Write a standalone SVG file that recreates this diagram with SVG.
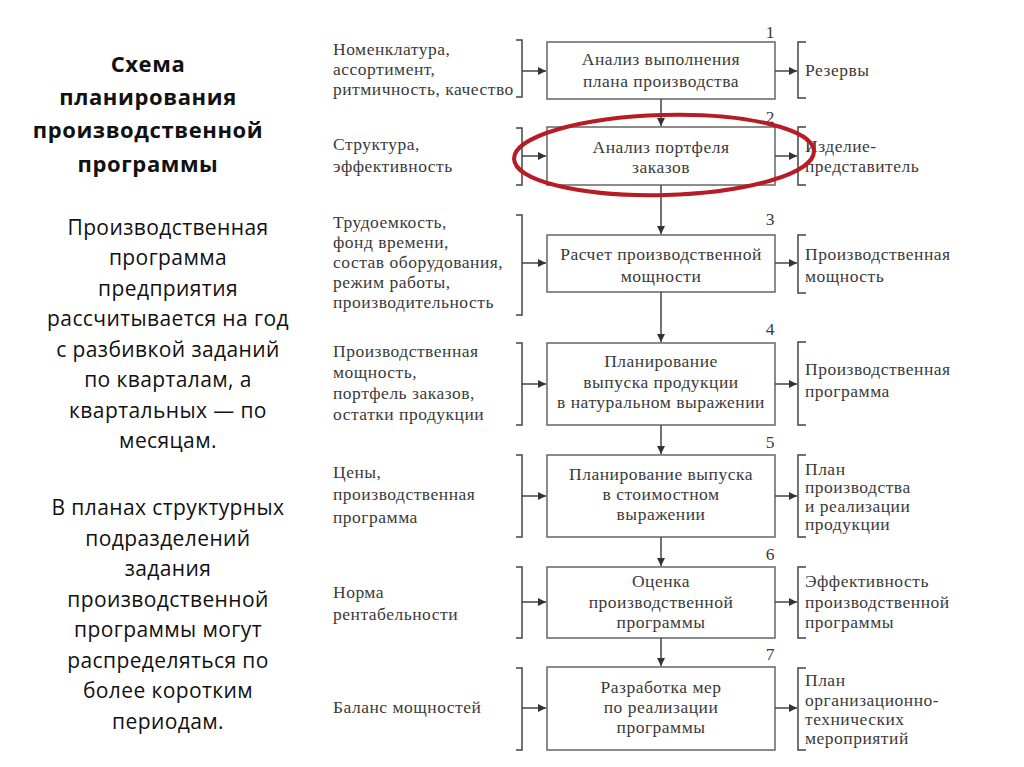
<svg xmlns="http://www.w3.org/2000/svg" width="1024" height="767" viewBox="0 0 1024 767">
<style>
.t{font-family:"Open Sans","Liberation Sans",sans-serif;fill:#111;text-anchor:middle}
.h{font-size:22px;font-weight:bold;letter-spacing:0.6px}
.b{font-size:21px;letter-spacing:0.4px}
.s{font-family:"Liberation Serif","Times New Roman",serif;font-size:17.5px;letter-spacing:0.5px;fill:#3a3a3a}
.c{text-anchor:middle}
.n{text-anchor:end}
.box{fill:#fff;stroke:#666;stroke-width:1.5}
.ln{fill:none;stroke:#444;stroke-width:1.5}
</style>
<defs>
<marker id="ah" viewBox="0 0 10 10" refX="10" refY="5" markerWidth="8" markerHeight="8" markerUnits="userSpaceOnUse" orient="auto">
<path d="M0,0 L10,5 L0,10 z" fill="#333"/>
</marker>
</defs>
<rect width="1024" height="767" fill="#fff"/>
<g id="title">
<text class="t h" x="148" y="72">Схема</text>
<text class="t h" x="148" y="105">планирования</text>
<text class="t h" x="148" y="138">производственной</text>
<text class="t h" x="148" y="172">программы</text>
</g>
<g id="para1">
<text class="t b" x="168" y="235">Производственная</text>
<text class="t b" x="168" y="265">программа</text>
<text class="t b" x="168" y="296">предприятия</text>
<text class="t b" x="168" y="326">рассчитывается на год</text>
<text class="t b" x="168" y="357">с разбивкой заданий</text>
<text class="t b" x="168" y="387">по кварталам, а</text>
<text class="t b" x="168" y="418">квартальных — по</text>
<text class="t b" x="168" y="448">месяцам.</text>
</g>
<g id="para2">
<text class="t b" x="168" y="515">В планах структурных</text>
<text class="t b" x="168" y="546">подразделений</text>
<text class="t b" x="168" y="576">задания</text>
<text class="t b" x="168" y="607">производственной</text>
<text class="t b" x="168" y="637">программы могут</text>
<text class="t b" x="168" y="668">распределяться по</text>
<text class="t b" x="168" y="698">более коротким</text>
<text class="t b" x="168" y="729">периодам.</text>
</g>
<g id="inputs">
<text class="s" x="333" y="55">Номенклатура,</text>
<text class="s" x="333" y="75">ассортимент,</text>
<text class="s" x="333" y="95">ритмичность, качество</text>
<text class="s" x="333" y="150">Структура,</text>
<text class="s" x="333" y="172">эффективность</text>
<text class="s" x="333" y="228">Трудоемкость,</text>
<text class="s" x="333" y="248">фонд времени,</text>
<text class="s" x="333" y="268">состав оборудования,</text>
<text class="s" x="333" y="288">режим работы,</text>
<text class="s" x="333" y="308">производительность</text>
<text class="s" x="333" y="357">Производственная</text>
<text class="s" x="333" y="378">мощность,</text>
<text class="s" x="333" y="399">портфель заказов,</text>
<text class="s" x="333" y="420">остатки продукции</text>
<text class="s" x="333" y="478">Цены,</text>
<text class="s" x="333" y="500">производственная</text>
<text class="s" x="333" y="523">программа</text>
<text class="s" x="333" y="598">Норма</text>
<text class="s" x="333" y="620">рентабельности</text>
<text class="s" x="333" y="713">Баланс мощностей</text>
</g>
<g id="node1">
<rect class="box" x="547" y="42" width="228" height="57"/>
<text class="s c" x="661" y="65">Анализ выполнения</text>
<text class="s c" x="661" y="87">плана производства</text>
<text class="s n" x="775" y="38">1</text>
</g>
<g id="node2">
<rect class="box" x="547" y="127" width="228" height="58"/>
<text class="s c" x="661" y="153">Анализ портфеля</text>
<text class="s c" x="661" y="173">заказов</text>
<text class="s n" x="775" y="123">2</text>
</g>
<g id="node3">
<rect class="box" x="547" y="235" width="228" height="57"/>
<text class="s c" x="661" y="260">Расчет производственной</text>
<text class="s c" x="661" y="282">мощности</text>
<text class="s n" x="775" y="225">3</text>
</g>
<g id="node4">
<rect class="box" x="547" y="343" width="228" height="82"/>
<text class="s c" x="661" y="367">Планирование</text>
<text class="s c" x="661" y="388">выпуска продукции</text>
<text class="s c" x="661" y="408">в натуральном выражении</text>
<text class="s n" x="775" y="335">4</text>
</g>
<g id="node5">
<rect class="box" x="547" y="455" width="228" height="82"/>
<text class="s c" x="661" y="480">Планирование выпуска</text>
<text class="s c" x="661" y="500">в стоимостном</text>
<text class="s c" x="661" y="520">выражении</text>
<text class="s n" x="775" y="448">5</text>
</g>
<g id="node6">
<rect class="box" x="547" y="567" width="228" height="71"/>
<text class="s c" x="661" y="587">Оценка</text>
<text class="s c" x="661" y="608">производственной</text>
<text class="s c" x="661" y="628">программы</text>
<text class="s n" x="775" y="560">6</text>
</g>
<g id="node7">
<rect class="box" x="547" y="667" width="228" height="83"/>
<text class="s c" x="661" y="693">Разработка мер</text>
<text class="s c" x="661" y="713">по реализации</text>
<text class="s c" x="661" y="733">программы</text>
<text class="s n" x="775" y="660">7</text>
</g>
<g id="outputs">
<text class="s" x="805" y="76">Резервы</text>
<text class="s" x="805" y="152">Изделие-</text>
<text class="s" x="805" y="172">представитель</text>
<text class="s" x="805" y="260">Производственная</text>
<text class="s" x="805" y="282">мощность</text>
<text class="s" x="805" y="375">Производственная</text>
<text class="s" x="805" y="397">программа</text>
<text class="s" x="805" y="475">План</text>
<text class="s" x="805" y="493">производства</text>
<text class="s" x="805" y="512">и реализации</text>
<text class="s" x="805" y="530">продукции</text>
<text class="s" x="805" y="587">Эффективность</text>
<text class="s" x="805" y="608">производственной</text>
<text class="s" x="805" y="628">программы</text>
<text class="s" x="805" y="686">План</text>
<text class="s" x="805" y="706">организационно-</text>
<text class="s" x="805" y="725">технических</text>
<text class="s" x="805" y="744">мероприятий</text>
</g>
<g id="connectors">
<path class="ln" d="M516,40 H522 V97 H516 M516,128 H522 V185 H516 M516,215 H522 V315 H516 M516,343 H522 V425 H516 M516,455 H522 V537 H516 M516,567 H522 V638 H516 M516,668 H522 V750 H516"/>
<path class="ln" d="M806,42 H798 V98 H806 M806,127 H798 V185 H806 M806,235 H798 V293 H806 M806,342 H798 V425 H806 M806,455 H798 V537 H806 M806,567 H798 V638 H806 M806,668 H798 V750 H806"/>
<g class="ln" marker-end="url(#ah)">
<line x1="522" y1="71" x2="546" y2="71"/>
<line x1="522" y1="156" x2="546" y2="156"/>
<line x1="522" y1="263" x2="546" y2="263"/>
<line x1="522" y1="384" x2="546" y2="384"/>
<line x1="522" y1="496" x2="546" y2="496"/>
<line x1="522" y1="602" x2="546" y2="602"/>
<line x1="522" y1="708" x2="546" y2="708"/>
<line x1="775" y1="71" x2="797" y2="71"/>
<line x1="775" y1="156" x2="797" y2="156"/>
<line x1="775" y1="263" x2="797" y2="263"/>
<line x1="775" y1="384" x2="797" y2="384"/>
<line x1="775" y1="496" x2="797" y2="496"/>
<line x1="775" y1="602" x2="797" y2="602"/>
<line x1="775" y1="708" x2="797" y2="708"/>
<line x1="661" y1="99" x2="661" y2="126"/>
<line x1="661" y1="185" x2="661" y2="234"/>
<line x1="661" y1="292" x2="661" y2="342"/>
<line x1="661" y1="425" x2="661" y2="454"/>
<line x1="661" y1="537" x2="661" y2="566"/>
<line x1="661" y1="638" x2="661" y2="666"/>
</g>
</g>
<g id="highlight">
<ellipse cx="664" cy="155" rx="150" ry="40" transform="rotate(-1.5 664 155)" fill="none" stroke="#b71c24" stroke-width="4"/>
</g>
</svg>
